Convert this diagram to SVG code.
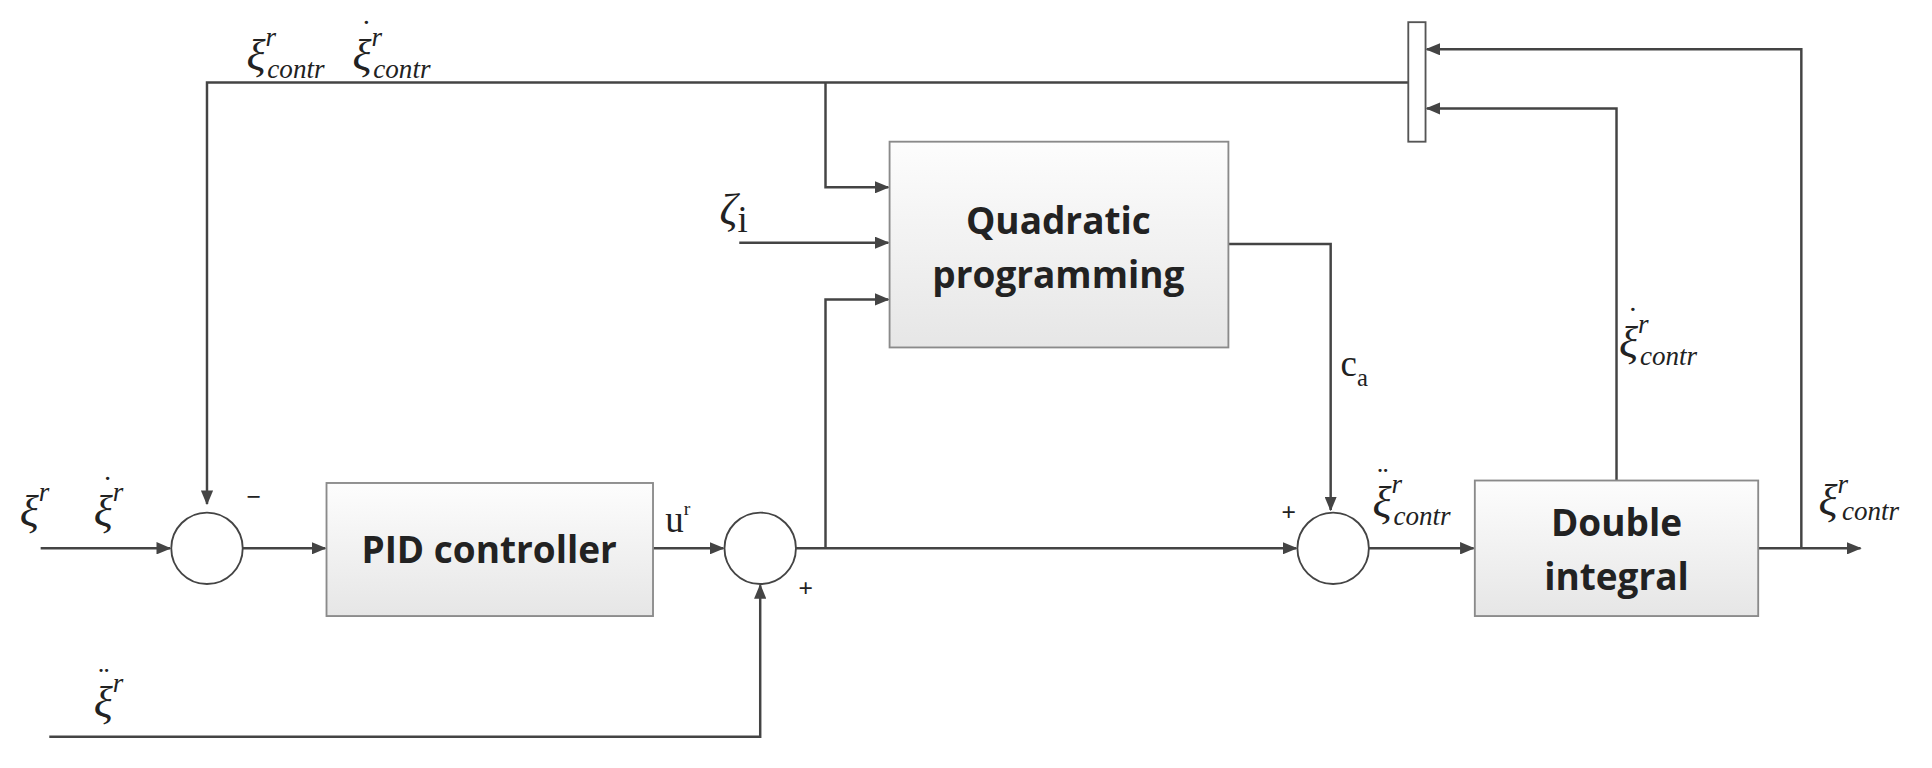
<svg xmlns="http://www.w3.org/2000/svg" width="1932" height="768" viewBox="0 0 1932 768">
<style>
.ln{fill:none;stroke:#444;stroke-width:2}
.box{fill:url(#g);stroke:#8a8a8a;stroke-width:1.5}
.bt{font-family:"Open Sans","DejaVu Sans",sans-serif;font-weight:bold;font-size:30px;fill:#222;text-anchor:middle}
.m{font-family:"Liberation Serif",serif;font-style:italic;font-size:36px;fill:#222}
.s{font-family:"Liberation Serif",serif;font-style:italic;font-size:22px;fill:#222}
.d{font-family:"Liberation Serif",serif;font-size:26px;fill:#222}
.u{font-family:"Liberation Serif",serif;font-size:30px;fill:#222}
.sg{font-family:"Liberation Sans",sans-serif;font-size:20px;fill:#222}
</style>
<defs>
<linearGradient id="g" x1="0" y1="0" x2="0" y2="1"><stop offset="0" stop-color="#fdfdfd"/><stop offset="1" stop-color="#e6e6e6"/></linearGradient>
<marker id="a" markerWidth="12" markerHeight="10" refX="11" refY="5" orient="auto" markerUnits="userSpaceOnUse"><path d="M0,0L12,5L0,10z" fill="#444"/></marker>
</defs>
<rect width="1932" height="768" fill="#fff"/>
<g transform="scale(1.2321)">
<g id="connectors">
<path class="ln" d="M1143,67H168V409" marker-end="url(#a)"/>
<path class="ln" d="M33,445H138" marker-end="url(#a)"/>
<path class="ln" d="M197,445H264" marker-end="url(#a)"/>
<path class="ln" d="M530,445H587" marker-end="url(#a)"/>
<path class="ln" d="M40,598H617V475" marker-end="url(#a)"/>
<path class="ln" d="M646,445H1052" marker-end="url(#a)"/>
<path class="ln" d="M670,445V243H721" marker-end="url(#a)"/>
<path class="ln" d="M670,67V152H721" marker-end="url(#a)"/>
<path class="ln" d="M600,197H721" marker-end="url(#a)"/>
<path class="ln" d="M997,198H1080V414" marker-end="url(#a)"/>
<path class="ln" d="M1111,445H1196" marker-end="url(#a)"/>
<path class="ln" d="M1312,390V88H1158" marker-end="url(#a)"/>
<path class="ln" d="M1427,445H1510" marker-end="url(#a)"/>
<path class="ln" d="M1462,445V40H1158" marker-end="url(#a)"/>
</g>
<g id="mux"><rect x="1143" y="18" width="14" height="97" fill="#fff" stroke="#555" stroke-width="1.5"/></g>
<g id="sum1"><circle cx="168" cy="445" r="29" fill="#fff" stroke="#444" stroke-width="1.5"/><text class="sg" x="200" y="410">−</text></g>
<g id="sum2"><circle cx="617" cy="445" r="29" fill="#fff" stroke="#444" stroke-width="1.5"/><text class="sg" x="648" y="484">+</text></g>
<g id="sum3"><circle cx="1082" cy="445" r="29" fill="#fff" stroke="#444" stroke-width="1.5"/><text class="sg" x="1040" y="422">+</text></g>
<g id="pid"><rect class="box" x="265" y="392" width="265" height="108"/><text class="bt" x="397" y="457">PID controller</text></g>
<g id="qp"><rect class="box" x="722" y="115" width="275" height="167"/><text class="bt" x="859" y="190">Quadratic</text><text class="bt" x="859" y="234">programming</text></g>
<g id="di"><rect class="box" x="1197" y="390" width="230" height="110"/><text class="bt" x="1312" y="435">Double</text><text class="bt" x="1312" y="479">integral</text></g>
<g id="labels">
<text class="m" x="200" y="57">ξ<tspan class="s" dy="-20">r</tspan><tspan class="s" dx="-7" dy="26">contr</tspan></text>
<text class="m" x="286" y="57">ξ<tspan class="s" dy="-20">r</tspan><tspan class="s" dx="-7" dy="26">contr</tspan></text>
<text class="d" x="293" y="34">˙</text>
<text class="m" x="16" y="427">ξ<tspan class="s" dy="-20">r</tspan></text>
<text class="m" x="76" y="427">ξ<tspan class="s" dy="-20">r</tspan></text>
<text class="d" x="83" y="404">˙</text>
<text class="m" x="76" y="582">ξ<tspan class="s" dy="-20">r</tspan></text>
<text class="d" x="80" y="559">¨</text>
<text class="u" x="540" y="432">u<tspan font-size="16" dy="-14">r</tspan></text>
<text class="m" x="584" y="182">ζ<tspan class="u" font-size="22" font-style="normal" dy="6">i</tspan></text>
<text class="u" x="1088" y="305">c<tspan font-size="20" dy="8">a</tspan></text>
<text class="m" x="1114" y="420">ξ<tspan class="s" dy="-20">r</tspan><tspan class="s" dx="-7" dy="26">contr</tspan></text>
<text class="d" x="1118" y="397">¨</text>
<text class="m" x="1314" y="290">ξ<tspan class="s" dy="-20">r</tspan><tspan class="s" dx="-7" dy="26">contr</tspan></text>
<text class="d" x="1321" y="267">˙</text>
<text class="m" x="1476" y="418">ξ<tspan class="s" font-style="normal" font-size="18" dy="-18">r</tspan><tspan class="s" font-style="normal" font-size="18" dx="-5" dy="22">contr</tspan></text>
</g>
</g>
</svg>
